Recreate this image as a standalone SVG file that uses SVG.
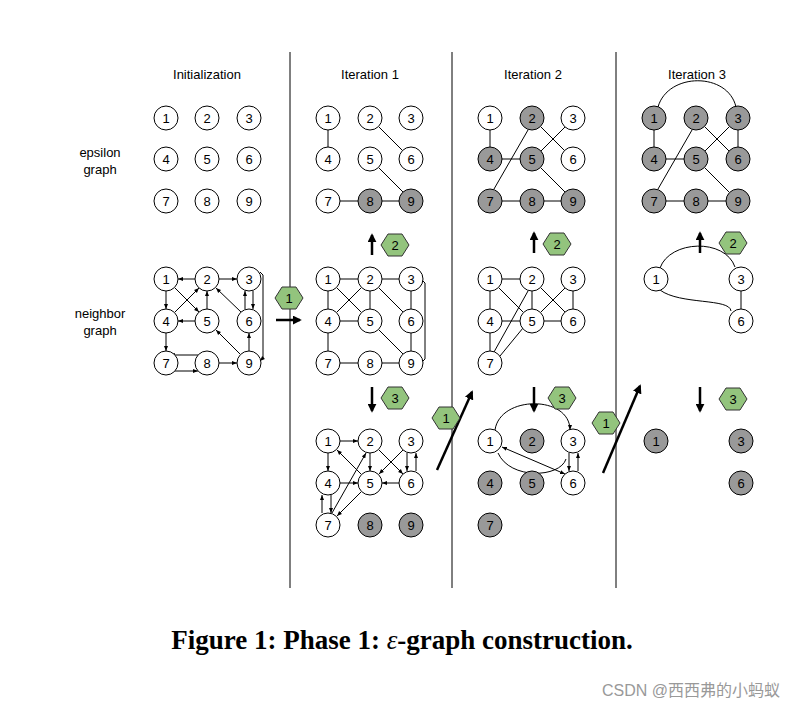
<svg xmlns="http://www.w3.org/2000/svg" width="805" height="708" viewBox="0 0 805 708">
<defs>
<marker id="a" viewBox="0 0 10 10" refX="10" refY="5" markerWidth="5" markerHeight="5" orient="auto-start-reverse"><path d="M0,1 L10,5 L0,9z" fill="#000"/></marker>
<marker id="b" viewBox="0 0 10 10" refX="8" refY="5" markerWidth="3.6" markerHeight="3.6" orient="auto"><path d="M0,0 L10,5 L0,10z" fill="#000"/></marker>
<g id="hex"><polygon points="-14,0 -7,-11 7,-11 14,0 7,11 -7,11" fill="#93c47d" stroke="#333" stroke-width="1"/></g>
</defs>
<style>
.n{fill:#fff;stroke:#000;stroke-width:1}
.g{fill:#999;stroke:#000;stroke-width:1}
text{font-family:"Liberation Sans",Arial,sans-serif;font-size:13px;text-anchor:middle;dominant-baseline:central}
.e line,.e path{stroke:#000;stroke-width:1;fill:none}
.d line,.d path{marker-end:url(#a)}
.big{stroke:#000;stroke-width:2.5;fill:none;marker-end:url(#b)}
.sep{stroke:#000;stroke-width:1}
</style>
<rect width="805" height="708" fill="#fff"/>
<g id="separators">
<line class="sep" x1="290" y1="52" x2="290" y2="588"/>
<line class="sep" x1="452" y1="52" x2="452" y2="588"/>
<line class="sep" x1="616" y1="52" x2="616" y2="588"/>
</g>
<g id="labels">
<text x="207" y="74">Initialization</text>
<text x="370" y="74">Iteration 1</text>
<text x="533" y="74">Iteration 2</text>
<text x="697" y="74">Iteration 3</text>
<text x="100" y="152">epsilon</text><text x="100" y="169">graph</text>
<text x="100" y="313">neighbor</text><text x="100" y="330">graph</text>
</g>
<g id="connectors">
<g class="e">
<line x1="328" y1="130" x2="328" y2="147"/><line x1="379" y1="127" x2="403" y2="151"/><line x1="340" y1="201" x2="358" y2="201"/><line x1="382" y1="201" x2="399" y2="201"/><line x1="379" y1="168" x2="403" y2="192"/>
<line x1="490" y1="130" x2="490" y2="147"/><line x1="541" y1="127" x2="565" y2="151"/><line x1="565" y1="127" x2="541" y2="151"/><line x1="502" y1="159" x2="520" y2="159"/><line x1="528" y1="130" x2="494" y2="189"/><line x1="502" y1="201" x2="520" y2="201"/><line x1="544" y1="201" x2="561" y2="201"/><line x1="541" y1="168" x2="565" y2="192"/>
<path d="M658,107 C668,72 728,72 736,107"/>
<line x1="654" y1="130" x2="654" y2="147"/><line x1="705" y1="127" x2="729" y2="151"/><line x1="729" y1="127" x2="705" y2="151"/><line x1="738" y1="130" x2="738" y2="147"/><line x1="666" y1="159" x2="684" y2="159"/><line x1="692" y1="130" x2="658" y2="189"/><line x1="666" y1="201" x2="684" y2="201"/><line x1="708" y1="201" x2="726" y2="201"/><line x1="705" y1="168" x2="729" y2="192"/>
<line x1="340" y1="279" x2="358" y2="279"/><line x1="382" y1="279" x2="399" y2="279"/><line x1="328" y1="291" x2="328" y2="309"/><line x1="337" y1="288" x2="361" y2="312"/><line x1="361" y1="288" x2="337" y2="312"/><line x1="370" y1="291" x2="370" y2="309"/><line x1="379" y1="288" x2="403" y2="312"/><line x1="340" y1="321" x2="358" y2="321"/><line x1="411" y1="291" x2="411" y2="309"/><path d="M422,280 L425,283 L425,359 L422,362"/><line x1="328" y1="333" x2="328" y2="351"/><line x1="340" y1="363" x2="358" y2="363"/><line x1="382" y1="363" x2="399" y2="363"/><line x1="379" y1="330" x2="403" y2="354"/><line x1="411" y1="333" x2="411" y2="351"/>
<line x1="502" y1="279" x2="520" y2="279"/><line x1="490" y1="291" x2="490" y2="309"/><line x1="499" y1="288" x2="523" y2="312"/><line x1="532" y1="291" x2="532" y2="309"/><line x1="541" y1="288" x2="565" y2="312"/><line x1="565" y1="288" x2="541" y2="312"/><line x1="573" y1="291" x2="573" y2="309"/><line x1="502" y1="321" x2="520" y2="321"/><line x1="544" y1="321" x2="561" y2="321"/><line x1="490" y1="333" x2="490" y2="351"/><line x1="528" y1="291" x2="494" y2="352"/><line x1="523" y1="328" x2="500" y2="356"/>
<path d="M660,268 C670,240 725,238 735,267"/><path d="M660,290 C680,305 730,298 731,311"/><line x1="741" y1="291" x2="741" y2="309"/>
<path d="M495,430 C500,395 570,395 570,430" marker-end="url(#a)"/>
<line x1="502" y1="447" x2="565" y2="474" marker-end="url(#a)" marker-start="url(#a)"/>
<path d="M498,453 C510,480 560,478 566,459"/>
<line x1="569" y1="453" x2="569" y2="471" marker-end="url(#a)"/><line x1="578" y1="471" x2="578" y2="453" marker-end="url(#a)"/>
</g>
<g class="e d">
<line x1="195" y1="279" x2="178" y2="279"/><line x1="219" y1="279" x2="237" y2="279"/><line x1="166" y1="291" x2="166" y2="309"/><line x1="175" y1="288" x2="199" y2="312"/><line x1="175" y1="312" x2="199" y2="288"/><line x1="207" y1="309" x2="207" y2="291"/><line x1="195" y1="321" x2="178" y2="321"/><line x1="241" y1="312" x2="216" y2="288"/><line x1="245" y1="309" x2="245" y2="291"/><line x1="253" y1="291" x2="253" y2="309"/><path d="M260,272 L263,275 L263,358 L260,361"/><line x1="166" y1="333" x2="166" y2="351"/><line x1="170" y1="371" x2="198" y2="371"/><line x1="198" y1="355" x2="170" y2="355"/><line x1="219" y1="363" x2="237" y2="363"/><line x1="249" y1="351" x2="249" y2="333"/><line x1="240" y1="354" x2="216" y2="330"/>
<line x1="340" y1="441" x2="358" y2="441"/><line x1="328" y1="453" x2="328" y2="471"/><line x1="370" y1="453" x2="370" y2="471"/><line x1="379" y1="450" x2="403" y2="474"/><line x1="403" y1="450" x2="379" y2="474"/><line x1="407" y1="453" x2="407" y2="471"/><line x1="416" y1="471" x2="416" y2="453"/><line x1="399" y1="483" x2="382" y2="483"/><line x1="340" y1="483" x2="358" y2="483"/><line x1="331" y1="495" x2="331" y2="513"/><line x1="322" y1="513" x2="322" y2="495"/><line x1="361" y1="474" x2="337" y2="450"/><line x1="361" y1="492" x2="337" y2="516"/><line x1="332" y1="513" x2="366" y2="453"/>
</g>
<line class="big" x1="276" y1="320" x2="300" y2="320"/>
<line class="big" x1="372" y1="255" x2="372" y2="235"/>
<line class="big" x1="372" y1="387" x2="372" y2="411"/>
<line class="big" x1="437" y1="470" x2="472" y2="392"/>
<line class="big" x1="534" y1="253" x2="534" y2="233"/>
<line class="big" x1="534" y1="387" x2="534" y2="411"/>
<line class="big" x1="603" y1="473" x2="640" y2="386"/>
<line class="big" x1="700" y1="253" x2="700" y2="233"/>
<line class="big" x1="700" y1="387" x2="700" y2="411"/>
</g>
<g id="hexagons">
<g transform="translate(289,298)"><use href="#hex"/><text>1</text></g>
<g transform="translate(395,245)"><use href="#hex"/><text>2</text></g>
<g transform="translate(395,398)"><use href="#hex"/><text>3</text></g>
<g transform="translate(446,418)"><use href="#hex"/><text>1</text></g>
<g transform="translate(557,244)"><use href="#hex"/><text>2</text></g>
<g transform="translate(562,398)"><use href="#hex"/><text>3</text></g>
<g transform="translate(606,423)"><use href="#hex"/><text>1</text></g>
<g transform="translate(733,243)"><use href="#hex"/><text>2</text></g>
<g transform="translate(733,399)"><use href="#hex"/><text>3</text></g>
</g>
<g id="nodes">
<g id="i-e1"><circle class="n" cx="166" cy="118" r="12"/><text x="166" y="118">1</text></g>
<g id="i-e2"><circle class="n" cx="207" cy="118" r="12"/><text x="207" y="118">2</text></g>
<g id="i-e3"><circle class="n" cx="249" cy="118" r="12"/><text x="249" y="118">3</text></g>
<g id="i-e4"><circle class="n" cx="166" cy="159" r="12"/><text x="166" y="159">4</text></g>
<g id="i-e5"><circle class="n" cx="207" cy="159" r="12"/><text x="207" y="159">5</text></g>
<g id="i-e6"><circle class="n" cx="249" cy="159" r="12"/><text x="249" y="159">6</text></g>
<g id="i-e7"><circle class="n" cx="166" cy="201" r="12"/><text x="166" y="201">7</text></g>
<g id="i-e8"><circle class="n" cx="207" cy="201" r="12"/><text x="207" y="201">8</text></g>
<g id="i-e9"><circle class="n" cx="249" cy="201" r="12"/><text x="249" y="201">9</text></g>
<g id="i-n1"><circle class="n" cx="166" cy="279" r="12"/><text x="166" y="279">1</text></g>
<g id="i-n2"><circle class="n" cx="207" cy="279" r="12"/><text x="207" y="279">2</text></g>
<g id="i-n3"><circle class="n" cx="249" cy="279" r="12"/><text x="249" y="279">3</text></g>
<g id="i-n4"><circle class="n" cx="166" cy="321" r="12"/><text x="166" y="321">4</text></g>
<g id="i-n5"><circle class="n" cx="207" cy="321" r="12"/><text x="207" y="321">5</text></g>
<g id="i-n6"><circle class="n" cx="249" cy="321" r="12"/><text x="249" y="321">6</text></g>
<g id="i-n7"><circle class="n" cx="166" cy="363" r="12"/><text x="166" y="363">7</text></g>
<g id="i-n8"><circle class="n" cx="207" cy="363" r="12"/><text x="207" y="363">8</text></g>
<g id="i-n9"><circle class="n" cx="249" cy="363" r="12"/><text x="249" y="363">9</text></g>
<g id="a-e1"><circle class="n" cx="328" cy="118" r="12"/><text x="328" y="118">1</text></g>
<g id="a-e2"><circle class="n" cx="370" cy="118" r="12"/><text x="370" y="118">2</text></g>
<g id="a-e3"><circle class="n" cx="411" cy="118" r="12"/><text x="411" y="118">3</text></g>
<g id="a-e4"><circle class="n" cx="328" cy="159" r="12"/><text x="328" y="159">4</text></g>
<g id="a-e5"><circle class="n" cx="370" cy="159" r="12"/><text x="370" y="159">5</text></g>
<g id="a-e6"><circle class="n" cx="411" cy="159" r="12"/><text x="411" y="159">6</text></g>
<g id="a-e7"><circle class="n" cx="328" cy="201" r="12"/><text x="328" y="201">7</text></g>
<g id="a-e8"><circle class="g" cx="370" cy="201" r="12"/><text x="370" y="201">8</text></g>
<g id="a-e9"><circle class="g" cx="411" cy="201" r="12"/><text x="411" y="201">9</text></g>
<g id="a-n1"><circle class="n" cx="328" cy="279" r="12"/><text x="328" y="279">1</text></g>
<g id="a-n2"><circle class="n" cx="370" cy="279" r="12"/><text x="370" y="279">2</text></g>
<g id="a-n3"><circle class="n" cx="411" cy="279" r="12"/><text x="411" y="279">3</text></g>
<g id="a-n4"><circle class="n" cx="328" cy="321" r="12"/><text x="328" y="321">4</text></g>
<g id="a-n5"><circle class="n" cx="370" cy="321" r="12"/><text x="370" y="321">5</text></g>
<g id="a-n6"><circle class="n" cx="411" cy="321" r="12"/><text x="411" y="321">6</text></g>
<g id="a-n7"><circle class="n" cx="328" cy="363" r="12"/><text x="328" y="363">7</text></g>
<g id="a-n8"><circle class="n" cx="370" cy="363" r="12"/><text x="370" y="363">8</text></g>
<g id="a-n9"><circle class="n" cx="411" cy="363" r="12"/><text x="411" y="363">9</text></g>
<g id="a-b1"><circle class="n" cx="328" cy="441" r="12"/><text x="328" y="441">1</text></g>
<g id="a-b2"><circle class="n" cx="370" cy="441" r="12"/><text x="370" y="441">2</text></g>
<g id="a-b3"><circle class="n" cx="411" cy="441" r="12"/><text x="411" y="441">3</text></g>
<g id="a-b4"><circle class="n" cx="328" cy="483" r="12"/><text x="328" y="483">4</text></g>
<g id="a-b5"><circle class="n" cx="370" cy="483" r="12"/><text x="370" y="483">5</text></g>
<g id="a-b6"><circle class="n" cx="411" cy="483" r="12"/><text x="411" y="483">6</text></g>
<g id="a-b7"><circle class="n" cx="328" cy="525" r="12"/><text x="328" y="525">7</text></g>
<g id="a-b8"><circle class="g" cx="370" cy="525" r="12"/><text x="370" y="525">8</text></g>
<g id="a-b9"><circle class="g" cx="411" cy="525" r="12"/><text x="411" y="525">9</text></g>
<g id="b-e1"><circle class="n" cx="490" cy="118" r="12"/><text x="490" y="118">1</text></g>
<g id="b-e2"><circle class="g" cx="532" cy="118" r="12"/><text x="532" y="118">2</text></g>
<g id="b-e3"><circle class="n" cx="573" cy="118" r="12"/><text x="573" y="118">3</text></g>
<g id="b-e4"><circle class="g" cx="490" cy="159" r="12"/><text x="490" y="159">4</text></g>
<g id="b-e5"><circle class="g" cx="532" cy="159" r="12"/><text x="532" y="159">5</text></g>
<g id="b-e6"><circle class="n" cx="573" cy="159" r="12"/><text x="573" y="159">6</text></g>
<g id="b-e7"><circle class="g" cx="490" cy="201" r="12"/><text x="490" y="201">7</text></g>
<g id="b-e8"><circle class="g" cx="532" cy="201" r="12"/><text x="532" y="201">8</text></g>
<g id="b-e9"><circle class="g" cx="573" cy="201" r="12"/><text x="573" y="201">9</text></g>
<g id="b-n1"><circle class="n" cx="490" cy="279" r="12"/><text x="490" y="279">1</text></g>
<g id="b-n2"><circle class="n" cx="532" cy="279" r="12"/><text x="532" y="279">2</text></g>
<g id="b-n3"><circle class="n" cx="573" cy="279" r="12"/><text x="573" y="279">3</text></g>
<g id="b-n4"><circle class="n" cx="490" cy="321" r="12"/><text x="490" y="321">4</text></g>
<g id="b-n5"><circle class="n" cx="532" cy="321" r="12"/><text x="532" y="321">5</text></g>
<g id="b-n6"><circle class="n" cx="573" cy="321" r="12"/><text x="573" y="321">6</text></g>
<g id="b-n7"><circle class="n" cx="490" cy="363" r="12"/><text x="490" y="363">7</text></g>
<g id="b-b1"><circle class="n" cx="490" cy="441" r="12"/><text x="490" y="441">1</text></g>
<g id="b-b2"><circle class="g" cx="532" cy="441" r="12"/><text x="532" y="441">2</text></g>
<g id="b-b3"><circle class="n" cx="573" cy="441" r="12"/><text x="573" y="441">3</text></g>
<g id="b-b4"><circle class="g" cx="490" cy="483" r="12"/><text x="490" y="483">4</text></g>
<g id="b-b5"><circle class="g" cx="532" cy="483" r="12"/><text x="532" y="483">5</text></g>
<g id="b-b6"><circle class="n" cx="573" cy="483" r="12"/><text x="573" y="483">6</text></g>
<g id="b-b7"><circle class="g" cx="490" cy="525" r="12"/><text x="490" y="525">7</text></g>
<g id="c-e1"><circle class="g" cx="654" cy="118" r="12"/><text x="654" y="118">1</text></g>
<g id="c-e2"><circle class="g" cx="696" cy="118" r="12"/><text x="696" y="118">2</text></g>
<g id="c-e3"><circle class="g" cx="738" cy="118" r="12"/><text x="738" y="118">3</text></g>
<g id="c-e4"><circle class="g" cx="654" cy="159" r="12"/><text x="654" y="159">4</text></g>
<g id="c-e5"><circle class="g" cx="696" cy="159" r="12"/><text x="696" y="159">5</text></g>
<g id="c-e6"><circle class="g" cx="738" cy="159" r="12"/><text x="738" y="159">6</text></g>
<g id="c-e7"><circle class="g" cx="654" cy="201" r="12"/><text x="654" y="201">7</text></g>
<g id="c-e8"><circle class="g" cx="696" cy="201" r="12"/><text x="696" y="201">8</text></g>
<g id="c-e9"><circle class="g" cx="738" cy="201" r="12"/><text x="738" y="201">9</text></g>
<g id="c-n1"><circle class="n" cx="656" cy="279" r="12"/><text x="656" y="279">1</text></g>
<g id="c-n3"><circle class="n" cx="741" cy="279" r="12"/><text x="741" y="279">3</text></g>
<g id="c-n6"><circle class="n" cx="741" cy="321" r="12"/><text x="741" y="321">6</text></g>
<g id="c-b1"><circle class="g" cx="656" cy="441" r="12"/><text x="656" y="441">1</text></g>
<g id="c-b3"><circle class="g" cx="741" cy="441" r="12"/><text x="741" y="441">3</text></g>
<g id="c-b6"><circle class="g" cx="741" cy="483" r="12"/><text x="741" y="483">6</text></g>
</g>
<text x="402" y="640" style="font-family:'Liberation Serif','Times New Roman',serif;font-size:27px;font-weight:bold">Figure 1: Phase 1: <tspan font-style="italic" font-weight="normal">ε</tspan>-graph construction.</text>
<text x="691" y="690" style="font-size:16px;fill:#999;font-family:'Liberation Sans','Noto Sans CJK SC',sans-serif">CSDN @西西弗的小蚂蚁</text>
</svg>
